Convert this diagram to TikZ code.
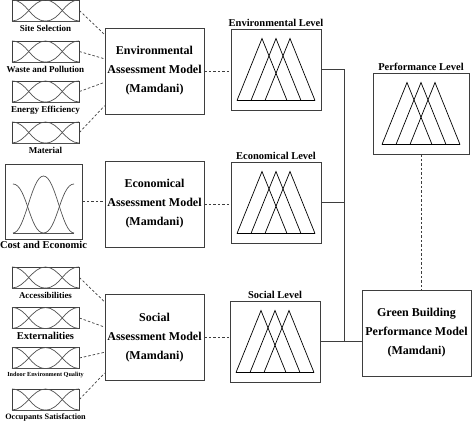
\documentclass[tikz,border=0pt]{standalone}
\usepackage{fontspec}
\setmainfont{Liberation Serif}
\usepackage{tikz}
\usetikzlibrary{positioning,calc}
\definecolor{lineink}{RGB}{62,62,62}
\definecolor{curveink}{RGB}{80,80,80}

\tikzset{
  pics/fuzzysets/.style={code={
    \draw[curveink, line width=0.7pt] (-1,#1) .. controls (-0.55,#1) and (-0.45,1) .. (0,1);
    \draw[curveink, line width=0.7pt] (-1,1) .. controls (-0.6,1) and (-0.4,-1) .. (0,-1)
      .. controls (0.4,-1) and (0.6,1) .. (1,1);
    \draw[curveink, line width=0.7pt] (0,1) .. controls (0.45,1) and (0.55,#1) .. (1,#1);
    \draw[curveink, line width=0.7pt] (-1,1) -- (1,1);
  }},
  pics/tripeaks/.style={code={
    \foreach \k in {-14,0,14}
      \draw[black, line width=0.7pt, line join=miter] (\k-25,31) -- (\k,-31) -- (\k+25,31);
    \draw[black, line width=0.7pt] (-39,31) -- (39,31);
  }}
}

\begin{document}
\begin{tikzpicture}[x=1pt, y=-1pt,
mfbox/.style={draw=lineink, line width=0.8pt, minimum width=67pt, minimum height=21pt, inner sep=0pt},
mflabel/.style={inner sep=1pt, font=\bfseries\fontsize{9}{10}\selectfont},
modelbox/.style={draw=lineink, line width=0.8pt, minimum width=99pt, minimum height=86pt, align=center, inner sep=0pt, font=\bfseries\fontsize{12}{19}\selectfont},
levelbox/.style={draw=lineink, line width=0.8pt, minimum width=90pt, minimum height=81pt, inner sep=0pt},
levellabel/.style={inner sep=1pt, font=\bfseries\fontsize{10.5}{12}\selectfont},
feed/.style={draw=lineink, line width=0.7pt, dash pattern=on 2.5pt off 2pt},
link/.style={draw=lineink, line width=0.9pt}
]
\useasboundingbox (0,0) rectangle (474,424);

% environmental inputs
\foreach \name/\ypos/\fs/\txt in {ss/10.5/9/Site Selection, wp/51.5/9/Waste and Pollution, ee/91.5/9/Energy Efficiency, mat/132.5/9/Material}{
  \node[mfbox] (\name) at (45.5,\ypos) {};
  \pic[xscale=33.5, yscale=10.5] at (\name) {fuzzysets=-1};
  \node[mflabel, font=\bfseries\fontsize{\fs}{10}\selectfont, below=2.5pt of \name] (\name-lab) {\txt};
}

% economic input
\node[draw=lineink, line width=0.8pt, minimum width=77pt, minimum height=75pt, inner sep=0pt] (cost) at (43.5,201.5) {};
\pic[xscale=30.5, yscale=28.5] at ([yshift=-3pt]cost.center) {fuzzysets=-0.72};
\node[mflabel, font=\bfseries\fontsize{10.5}{12}\selectfont, below=1pt of cost] (cost-lab) {Cost and Economic};

% social inputs
\foreach \name/\ypos/\fs/\txt in {acc/277.5/8.9/Accessibilities, ext/318/10.5/Externalities, ieq/358/6.2/Indoor Environment Quality, occ/399.5/8.2/Occupants Satisfaction}{
  \node[mfbox] (\name) at (45.5,\ypos) {};
  \pic[xscale=33.5, yscale=10.5] at (\name) {fuzzysets=-1};
  \node[mflabel, font=\bfseries\fontsize{\fs}{10}\selectfont, below=2.5pt of \name] (\name-lab) {\txt};
}

% assessment models
\node[modelbox] (envm) at (154.5,71) {Environmental\\Assessment Model\\(Mamdani)};
\node[modelbox] (ecom) at (154.5,204) {Economical\\Assessment Model\\(Mamdani)};
\node[modelbox] (socm) at (154.5,337.5) {Social\\Assessment Model\\(Mamdani)};

% output levels
\node[levelbox] (envlev) at (276,69.5) {};
\node[levelbox] (ecolev) at (276,202.5) {};
\node[levelbox] (soclev) at (275,341.5) {};
\node[levelbox, minimum width=96pt] (perf) at (421,113.5) {};
\foreach \name/\txt in {envlev/Environmental Level, ecolev/Economical Level, soclev/Social Level, perf/Performance Level}{
  \pic at (\name) {tripeaks};
  \node[levellabel, above=1pt of \name] (\name-lab) {\txt};
}

\node[modelbox, minimum width=109pt] (gbm) at (416.5,333) {Green Building\\Performance Model\\(Mamdani)};

% fuzzy inputs into the models
\foreach \name/\f in {ss/0.08, wp/0.36, ee/0.63, mat/0.9}
  \draw[feed] (\name.east) -- ($(envm.north west)!\f!(envm.south west)$);
\foreach \name/\f in {acc/0.09, ext/0.38, ieq/0.67, occ/0.91}
  \draw[feed] (\name.east) -- ($(socm.north west)!\f!(socm.south west)$);
\draw[feed] (cost.east) -- (cost.east -| ecom.west);

% models to levels
\foreach \a/\b in {envm/envlev, ecom/ecolev, socm/soclev}
  \draw[feed] (\a.east) -- (\a.east -| \b.west);

% levels to the green building model
\coordinate (busx) at (344,0);
\draw[link] (envlev.east) -| (busx |- soclev.east);
\draw[link] (ecolev.east) -- (ecolev.east -| busx);
\draw[link] (soclev.east) -- (soclev.east -| gbm.west);
\draw[feed] (perf.south) -- (perf.south |- gbm.north);
\end{tikzpicture}
\end{document}
